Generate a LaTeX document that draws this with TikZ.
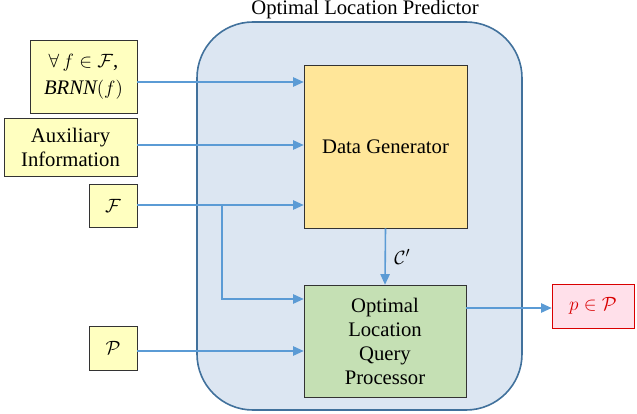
\documentclass[tikz,border=0pt]{standalone}
\usepackage{fontspec}
\setmainfont{Liberation Serif}
\usetikzlibrary{arrows.meta}
\definecolor{bbg}{HTML}{DCE6F2}
\definecolor{bline}{HTML}{41719C}
\definecolor{arr}{HTML}{5B9BD5}
\definecolor{inp}{HTML}{FFFFC0}
\definecolor{gen}{HTML}{FFE699}
\definecolor{qp}{HTML}{C5E0B4}
\definecolor{outf}{HTML}{FFE0EA}
\begin{document}
\begin{tikzpicture}[x=0.75pt,y=-0.75pt,
  every node/.style={font=\fontsize{15.5}{18}\selectfont},
  inbox/.style={draw=black!80,fill=inp,inner sep=0pt,align=center},
  conn/.style={draw=arr,line width=1.2pt,-{Triangle[length=8pt,width=7pt]}}]
\useasboundingbox (0,0) rectangle (637,414);
\draw[fill=bbg,draw=bline,line width=1.2pt,rounded corners=42pt] (197,22) rectangle (522,410);
\node (title) at (365,10) {Optimal Location Predictor};
\node[draw=black!80,fill=gen,minimum width=163*0.75pt,minimum height=163*0.75pt] (dg) at (385.5,146.5) {Data Generator};
\node[draw=black!80,fill=qp,minimum width=162*0.75pt,minimum height=112*0.75pt,align=center] (qp) at (385,341) {Optimal\\Location\\Query\\Processor};
\node[inbox,minimum width=107*0.75pt,minimum height=73*0.75pt] (b1) at (83.5,76.5) {$\forall\, f\in\mathcal{F}$,\\[2pt] $\mathit{BRNN}(f)$};
\node[inbox,minimum width=133*0.75pt,minimum height=58*0.75pt] (b2) at (70.5,147) {Auxiliary\\Information};
\node[inbox,minimum width=48*0.75pt,minimum height=43*0.75pt] (b3) at (113,205.5) {$\mathcal{F}$};
\node[inbox,minimum width=48*0.75pt,minimum height=44*0.75pt] (b4) at (113,348) {$\mathcal{P}$};
\node[draw=red!85!black,fill=outf,minimum width=82*0.75pt,minimum height=44*0.75pt,text=red!85!black] (out) at (593,306) {$p\in\mathcal{P}$};
\coordinate (j) at (222,205);
\draw[conn] (b1.east |- 0,82) -- (dg.west |- 0,82);
\draw[conn] (b2.east |- 0,145) -- (dg.west |- 0,145);
\draw[conn] (b3.east |- j) -- (dg.west |- j);
\draw[conn] (j) -- (222,299) -- (qp.west |- 0,299);
\draw[conn] (b4.east |- 0,351) -- (qp.west |- 0,351);
\draw[conn] (dg.south) -- node[right,text=black,xshift=3pt]{$\mathcal{C}'$} (qp.north);
\draw[conn] (qp.east |- 0,308) -- (out.west |- 0,308);
\end{tikzpicture}
\end{document}
